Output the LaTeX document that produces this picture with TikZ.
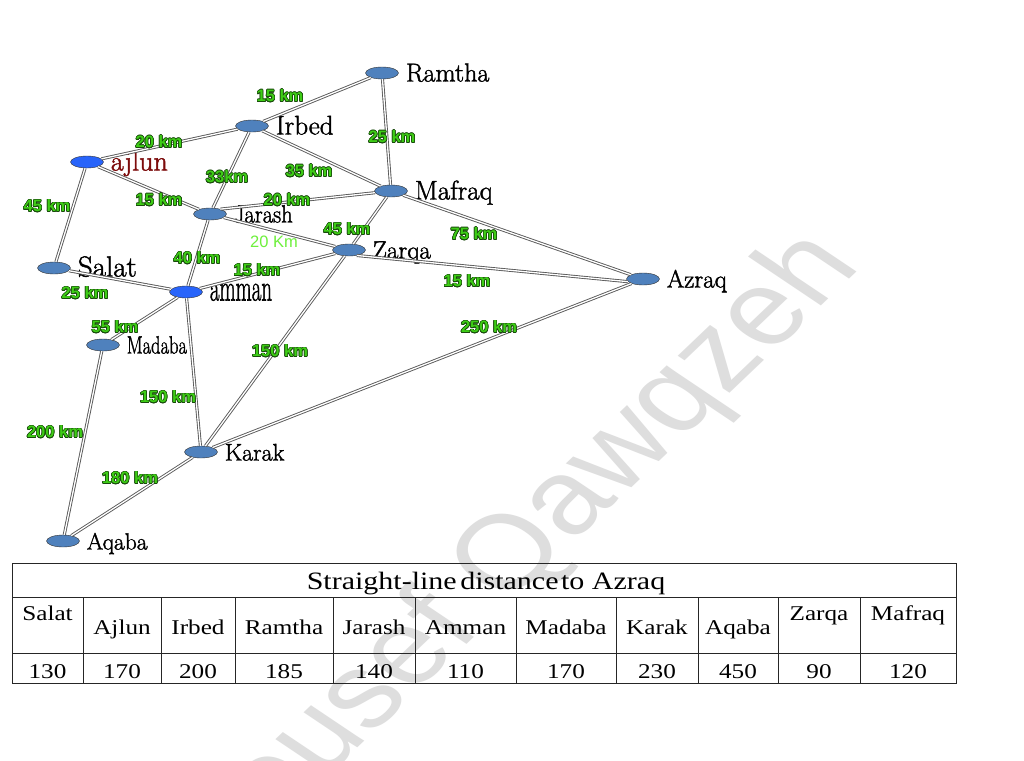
\documentclass[tikz,border=0pt]{standalone}
\usepackage{fontspec}
\usepackage{contour}
\usetikzlibrary{shapes.geometric,positioning}
\newfontfamily\cityfont[FakeBold=1.6]{Latin Modern Roman}
\newfontfamily\kmfont{Liberation Sans}
\newfontfamily\tabfont[FakeStretch=1.2]{Liberation Serif}
\newfontfamily\markfont{Liberation Sans}
\definecolor{cityblue}{RGB}{79,129,189}
\definecolor{hotblue}{RGB}{40,100,250}
\definecolor{kmgreen}{RGB}{62,205,22}
\definecolor{kmdark}{RGB}{25,75,12}
\definecolor{kmlight}{RGB}{110,240,60}
\definecolor{namered}{RGB}{125,12,12}
\contourlength{0.6pt}

\begin{document}
\begin{tikzpicture}[x=1pt,y=-1pt,
    city/.style={ellipse,draw=black!80,fill=cityblue,minimum width=33pt,minimum height=12pt,inner sep=0pt},
    hotcity/.style={city,fill=hotblue},
    cityname/.style={inner sep=0pt,text height=17pt,text depth=0pt,font=\cityfont\fontsize{#1}{#1}\selectfont},
    cityname/.default=25,
    road/.style={draw=black!65,double=white,double distance=1.3pt,line width=0.9pt},
    km/.style={inner sep=0pt,text=kmgreen,font=\kmfont\bfseries\fontsize{16.5}{18}\selectfont},
    cell/.style={draw=black!85,line width=1pt},
    tabtext/.style={inner sep=0pt,text height=14pt,text depth=0pt,font=\tabfont\fontsize{21}{23}\selectfont}]

    % page size and background
    \useasboundingbox (0,0) rectangle (1024,760);
    \fill[white] (0,0) rectangle (1024,760);

    % watermark
    \begin{scope}[shift={(228,872)},xscale=1.25]
        \node[anchor=base west,rotate=50,transform shape,inner sep=0pt,text=black!13,
            font=\markfont\fontsize{105}{105}\selectfont] (mark) at (0,0) {Yousef Qawqzeh};
    \end{scope}

    % cities
    \node[city] (Ramtha) at (382,73) {};
    \node[city] (Irbed) at (252,126) {};
    \node[hotcity] (ajlun) at (87,162) {};
    \node[city] (Mafraq) at (391,191) {};
    \node[city] (Jarash) at (210,214) {};
    \node[city] (Zarqa) at (349,250) {};
    \node[city] (Azraq) at (643,279) {};
    \node[city] (Salat) at (54,268) {};
    \node[hotcity] (amman) at (186,292) {};
    \node[city] (Madaba) at (103,345) {};
    \node[city] (Karak) at (201,452) {};
    \node[city] (Aqaba) at (63,541) {};

    % city names
    \node[cityname=26,right=7pt of Ramtha] (Ramtha-t) {Ramtha};
    \node[cityname=27,right=7pt of Irbed] (Irbed-t) {Irbed};
    \node[cityname=28,right=7pt of ajlun,text=namered] (ajlun-t) {ajlun};
    \node[cityname=27,right=7pt of Mafraq] (Mafraq-t) {Mafraq};
    \node[cityname,right=7pt of Jarash] (Jarash-t) {\scalebox{0.9}[1]{Jarash}};
    \node[cityname,right=7pt of Zarqa] (Zarqa-t) {Zarqa};
    \node[cityname,right=7pt of Azraq] (Azraq-t) {Azraq};
    \node[cityname=29,right=7pt of Salat] (Salat-t) {Salat};
    \node[cityname,right=7pt of amman] (amman-t) {\scalebox{0.55}[1]{\fontsize{38}{40}\selectfont amman}};
    \node[cityname,right=7pt of Madaba] (Madaba-t) {\scalebox{0.74}[1]{Madaba}};
    \node[cityname=24,right=7pt of Karak] (Karak-t) {Karak};
    \node[cityname=23.5,right=7pt of Aqaba] (Aqaba-t) {Aqaba};

    % roads
    \foreach \a/\b in {Ramtha/Irbed,Ramtha/Mafraq,Irbed/ajlun,Irbed/Jarash,Irbed/Mafraq,
        ajlun/Salat,ajlun/Jarash,Jarash.25/Mafraq,Jarash/Zarqa,Jarash/amman,Mafraq/Zarqa,
        Mafraq/Azraq,Zarqa.-35/Azraq.190,Zarqa/amman,Zarqa/Karak,Salat/amman,amman/Madaba,
        amman/Karak,Madaba/Aqaba,Karak/Aqaba,Karak/Azraq}
        \draw[road] (\a) -- (\b);

    % distances
    \foreach \x/\y/\t [count=\i] in {280/96/15 km,159/142/20 km,227/177/33km,309/171/35 km,
        392/137/25 km,287/200/20 km,159/200/15 km,47/206/45 km,347/229/45 km,474/234/75 km,
        467/281/15 km,489/327/250 km,197/258/40 km,257/270/15 km,85/293/25 km,115/327/55 km,
        280/351/150 km,168/397/150 km,55/432/200 km,130/478/180 km}
        \node[km] (km\i) at (\x,\y) {\contour{kmdark}{\t}};
    \node[km,text=kmlight,font=\kmfont\fontsize{16.5}{18}\selectfont] (kmJZ) at (274,242) {20 Km};

    % table of straight-line distances
    \draw[cell] (12,563) rectangle (956,597);
    \node[tabtext,text height=17pt,font=\tabfont\fontsize{25}{27}\selectfont] (title) at (486,581)
        {Straight-line\hspace{0.14em}distance\hspace{0.1em}to Azraq};
    \foreach \n/\xa/\xb/\hy/\v in {Salat/12/83/613/130,Ajlun/83/161/627/170,Irbed/161/235/627/200,
        Ramtha/235/333/627/185,Jarash/333/415/627/140,Amman/415/516/627/110,Madaba/516/616/627/170,
        Karak/616/698/627/230,Aqaba/698/778/627/450,Zarqa/778/860/613/90,Mafraq/860/956/613/120}{
        \draw[cell] (\xa,597) rectangle (\xb,653);
        \draw[cell] (\xa,653) rectangle (\xb,683);
        \node[tabtext] (h-\n) at ({(\xa+\xb)/2},\hy) {\n};
        \node[tabtext] (v-\n) at ({(\xa+\xb)/2},671) {\v};
    }
\end{tikzpicture}
\end{document}
